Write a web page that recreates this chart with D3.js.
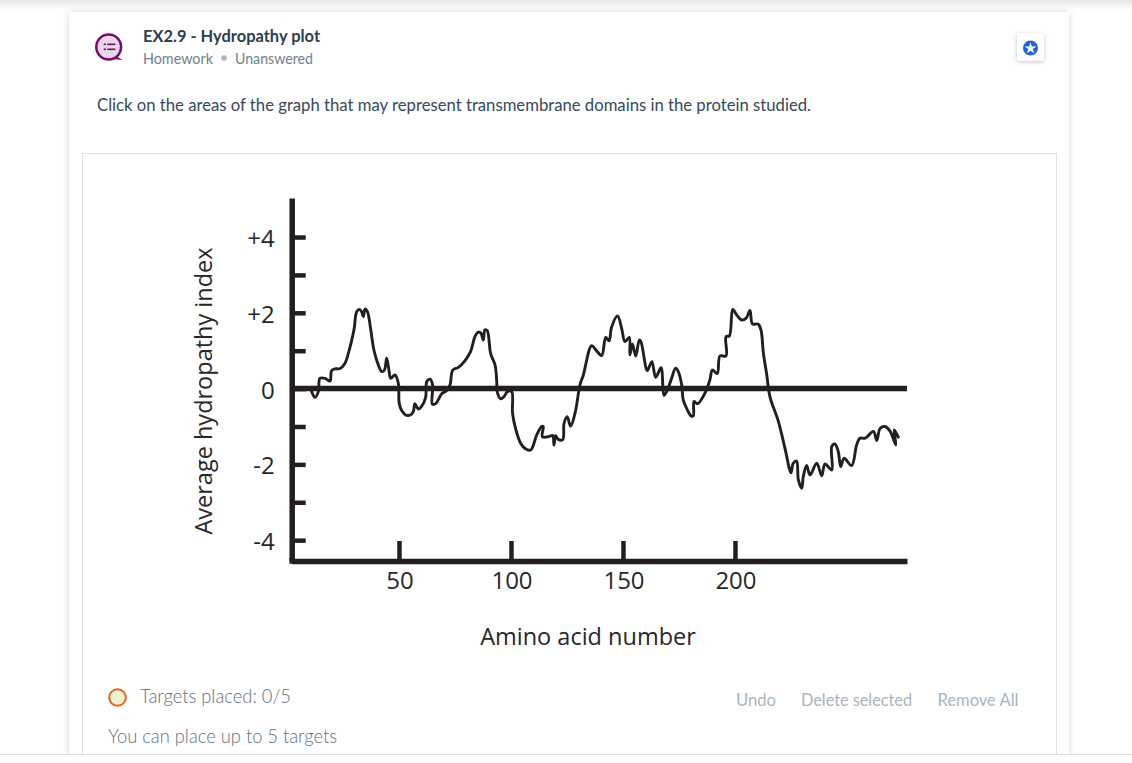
<!DOCTYPE html>
<html>
<head>
<meta charset="utf-8">
<script src="https://cdn.jsdelivr.net/npm/d3@7"></script>
<style>
  html, body { margin: 0; padding: 0; background: #fff; overflow: hidden; }
  text { font-family: "Lato", "Noto Sans", sans-serif; }
  .plot text { font-family: "Open Sans", "Noto Sans", sans-serif; fill: #2a2627; }
</style>
</head>
<body>
<script>
const width = 1132;
const height = 763;

// amino acid number / hydropathy index
const aminoAcid = [11.0,12.5,14.0,14.7,17.0,19.2,19.9,21.4,23.7,25.9,27.4,29.9,31.1,32.3,33.3,34.1,34.8,35.9,37.4,38.8,40.8,42.3,43.5,44.5,45.5,46.3,48.2,49.7,50.1,51.2,53.1,55.2,56.4,57.1,58.6,60.1,61.9,62.4,63.8,65.0,64.9,66.5,69.0,71.3,72.8,74.0,76.5,79.5,82.0,83.9,85.4,86.6,87.6,88.4,89.4,90.9,92.9,93.6,94.0,95.4,96.9,98.4,100.3,100.7,102.2,104.3,106.3,108.8,111.5,113.7,114.4,114.0,116.7,118.6,119.2,119.9,121.1,123.1,123.7,125.1,126.6,128.6,130.8,132.3,136.0,138.2,140.5,142.3,143.8,144.9,147.6,149.4,150.9,152.8,153.1,154.2,155.7,157.3,158.0,160.3,160.9,162.9,164.6,167.0,168.3,169.8,171.7,173.5,174.7,176.2,176.9,178.4,180.4,181.4,181.7,183.3,186.6,188.8,189.9,192.1,193.3,196.0,196.0,197.5,199.0,200.8,203.0,205.0,206.7,207.8,210.4,211.6,212.7,214.1,215.6,219.4,222.3,225.0,226.0,227.5,228.3,229.8,230.5,232.0,233.5,236.5,238.7,240.2,243.2,243.2,244.6,246.1,247.2,248.7,252.1,254.3,255.8,258.1,261.8,263.3,264.8,267.0,269.3,271.8,271.1,272.9];
const hydropathy = [-0.08,-0.23,-0.08,0.27,0.27,0.20,0.47,0.52,0.53,0.67,0.93,1.55,2.03,2.09,2.03,1.90,2.10,2.03,1.55,1.02,0.62,0.45,0.49,0.80,0.49,0.27,0.36,0.14,-0.39,-0.58,-0.70,-0.69,-0.61,-0.40,-0.54,-0.47,-0.23,0.18,0.25,0.10,-0.41,-0.39,-0.14,-0.05,0.10,0.49,0.56,0.74,0.98,1.37,1.49,1.46,1.28,1.55,1.53,0.93,0.62,0.23,-0.12,-0.27,-0.21,-0.08,-0.08,-0.65,-1.09,-1.44,-1.58,-1.62,-1.22,-1.00,-1.00,-1.27,-1.27,-1.24,-1.49,-1.24,-1.34,-1.35,-0.91,-0.74,-0.99,-0.65,0.10,0.36,1.13,1.00,0.87,1.35,1.26,1.62,1.92,1.59,1.24,1.35,0.89,1.18,0.86,1.28,1.24,0.54,0.47,0.71,0.30,0.55,-0.18,-0.04,0.27,0.54,0.45,0.10,-0.30,-0.52,-0.72,-0.72,-0.34,-0.40,-0.12,0.23,0.49,0.40,0.86,0.86,1.37,1.39,2.09,1.94,1.81,1.86,2.06,1.71,1.70,1.55,0.93,0.40,-0.21,-0.87,-1.57,-2.22,-1.97,-1.91,-2.41,-2.63,-2.32,-2.03,-2.28,-1.97,-2.30,-1.99,-2.15,-1.53,-1.46,-1.66,-2.06,-1.84,-2.03,-1.49,-1.31,-1.31,-1.13,-1.37,-1.05,-1.00,-1.13,-1.49,-1.09,-1.28];

const xTicks = [50, 100, 150, 200];
const yTicks = [-4, -3, -2, -1, 0, 1, 2, 3, 4];
const yTickLabels = {"-4": "-4", "-2": "-2", "0": "0", "2": "+2", "4": "+4"};

const xTitle = "Amino acid number";
const yTitle = "Average hydropathy index";

let svg = d3.select("body").append("svg")
    .attr("width", width)
    .attr("height", height)
    .style("display", "block");

let defs = svg.append("defs");

let topFade = defs.append("linearGradient")
    .attr("id", "topFade")
    .attr("x1", 0).attr("x2", 0).attr("y1", 0).attr("y2", 1);
topFade.append("stop").attr("offset", 0).attr("stop-color", "#e6e6e6");
topFade.append("stop").attr("offset", 1).attr("stop-color", "#ffffff");

defs.append("filter").attr("id", "cardShadow")
    .attr("x", "-3%").attr("y", "-3%").attr("width", "106%").attr("height", "106%")
    .append("feDropShadow")
    .attr("dx", 0).attr("dy", 0).attr("stdDeviation", 3)
    .attr("flood-color", "#000").attr("flood-opacity", 0.16);

defs.append("filter").attr("id", "btnShadow")
    .attr("x", "-30%").attr("y", "-30%").attr("width", "160%").attr("height", "160%")
    .append("feDropShadow")
    .attr("dx", 0).attr("dy", 1).attr("stdDeviation", 2)
    .attr("flood-color", "#000").attr("flood-opacity", 0.22);

// page chrome
svg.append("rect").attr("width", width).attr("height", 10).attr("fill", "url(#topFade)");

svg.append("rect")
    .attr("x", 69).attr("y", 12).attr("width", 1000).attr("height", 800).attr("rx", 2)
    .attr("fill", "#fff")
    .attr("filter", "url(#cardShadow)");

svg.append("rect")
    .attr("x", 82.5).attr("y", 153.5).attr("width", 974).attr("height", 640)
    .attr("fill", "#fff").attr("stroke", "#dfe1e5");

// speech bubble icon
let icon = svg.append("g").attr("transform", "translate(108.7,47)");
icon.append("path")
    .attr("d", "M7,9 L14,13 L4,12 Z")
    .attr("fill", "#7a0b6c");
icon.append("path")
    .attr("d", d3.arc()({innerRadius: 0, outerRadius: 12.4, startAngle: 0, endAngle: 2 * Math.PI}))
    .attr("fill", "#e9d6e9")
    .attr("stroke", "#7a0b6c")
    .attr("stroke-width", 2.5);
[-2.7, 2.3].forEach(dy => {
    icon.append("rect").attr("x", -1.4).attr("y", dy - 0.8).attr("width", 8).attr("height", 1.6).attr("fill", "#7a0b6c");
    icon.append("rect").attr("x", -5).attr("y", dy - 0.8).attr("width", 2.2).attr("height", 1.6).attr("fill", "#7a0b6c");
});

const chrome = [
    {t: "EX2.9 - Hydropathy plot", x: 143, y: 42, s: 17, w: 700, c: "#2c3e50", len: 177},
    {t: "Homework", x: 143, y: 64, s: 14.5, w: 400, c: "#6f8090", len: 70},
    {t: "Unanswered", x: 235, y: 64, s: 14.5, w: 400, c: "#6f8090", len: 78},
    {t: "Click on the areas of the graph that may represent transmembrane domains in the protein studied.", x: 97, y: 111, s: 17, w: 400, c: "#36495c", len: 714},
    {t: "Targets placed: 0/5", x: 140, y: 703, s: 19, w: 300, c: "#5f6f7f", len: 151},
    {t: "You can place up to 5 targets", x: 108, y: 743, s: 19, w: 300, c: "#5f6f7f", len: 229},
    {t: "Undo", x: 736, y: 706, s: 18, w: 400, c: "#a8b5c2", len: 40},
    {t: "Delete selected", x: 801, y: 706, s: 18, w: 400, c: "#a8b5c2", len: 111},
    {t: "Remove All", x: 937.5, y: 706, s: 18, w: 400, c: "#a8b5c2", len: 81}
];

svg.append("g").selectAll("text")
    .data(chrome)
    .join("text")
    .attr("x", d => d.x)
    .attr("y", d => d.y)
    .attr("fill", d => d.c)
    .attr("textLength", d => d.len)
    .attr("lengthAdjust", "spacingAndGlyphs")
    .style("font-size", d => d.s + "px")
    .style("font-weight", d => d.w)
    .text(d => d.t);

svg.append("circle").attr("cx", 224).attr("cy", 58).attr("r", 2.8).attr("fill", "#a9b6c2");

svg.append("circle").attr("cx", 117.5).attr("cy", 697.5).attr("r", 8.3)
    .attr("fill", "#e9f3d2").attr("stroke", "#f0620f").attr("stroke-width", 2);

// star button
svg.append("rect")
    .attr("x", 1017).attr("y", 33).attr("width", 27).attr("height", 28).attr("rx", 2)
    .attr("fill", "#fff").attr("filter", "url(#btnShadow)");
svg.append("circle").attr("cx", 1030.5).attr("cy", 48).attr("r", 7.5).attr("fill", "#1f63d6");
svg.append("path")
    .attr("transform", "translate(1030.5,48.3)")
    .attr("d", d3.symbol(d3.symbolStar, 42)())
    .attr("fill", "#fff");

// the plot
let plot = svg.append("g").attr("class", "plot");

let xScale = d3.scaleLinear().domain([2.1, 276.8]).range([291.7, 907]);
let yScale = d3.scaleLinear().domain([-4.55, 5.03]).range([561, 198]);

let line = d3.line()
    .curve(d3.curveCatmullRom.alpha(0.5))
    .x((d, i) => xScale(aminoAcid[i]))
    .y(d => yScale(d));

plot.append("path")
    .datum(hydropathy)
    .attr("fill", "none")
    .attr("stroke", "#231f20")
    .attr("stroke-width", 2.9)
    .attr("stroke-linejoin", "round")
    .attr("stroke-linecap", "round")
    .attr("d", line);

plot.append("line")
    .attr("x1", xScale.range()[0]).attr("x2", xScale.range()[1])
    .attr("y1", yScale(0)).attr("y2", yScale(0))
    .attr("stroke", "#231f20").attr("stroke-width", 5.5);

let xAxis = plot.append("g")
    .attr("transform", "translate(0," + yScale.range()[0] + ")")
    .call(d3.axisBottom(xScale).tickValues(xTicks).tickSize(-20).tickSizeOuter(0).tickPadding(11));

let yAxis = plot.append("g")
    .attr("transform", "translate(" + xScale.range()[0] + ",0)")
    .call(d3.axisLeft(yScale).tickValues(yTicks).tickSize(-14).tickSizeOuter(0).tickPadding(17)
        .tickFormat(d => yTickLabels[d] || ""));

[xAxis, yAxis].forEach(a => {
    a.select(".domain").attr("stroke", "#231f20").attr("stroke-width", 5.5);
    a.selectAll(".tick line").attr("stroke", "#231f20").attr("stroke-width", 4.5);
    a.selectAll(".tick text").style("font-size", "24px");
});
xAxis.selectAll(".tick text").attr("dx", 0.5);
yAxis.selectAll(".tick text").attr("dy", "0.4em");

// fills the notch where the two axes meet
plot.append("rect")
    .attr("x", xScale.range()[0] - 2.25).attr("y", yScale.range()[0] - 2.75)
    .attr("width", 5.5).attr("height", 5.5)
    .attr("fill", "#231f20");

plot.append("text")
    .attr("x", 588).attr("y", 645)
    .attr("text-anchor", "middle")
    .style("font-size", "23.5px")
    .text(xTitle);

plot.append("text")
    .attr("transform", "translate(212,391) rotate(-90)")
    .attr("text-anchor", "middle")
    .style("font-size", "23.5px")
    .text(yTitle);

// bottom bar of the page
svg.append("rect").attr("x", 0).attr("y", 754).attr("width", width).attr("height", 9).attr("fill", "#fff");
svg.append("line").attr("x1", 0).attr("x2", width).attr("y1", 754.5).attr("y2", 754.5).attr("stroke", "#dcdde0");
</script>
</body>
</html>
